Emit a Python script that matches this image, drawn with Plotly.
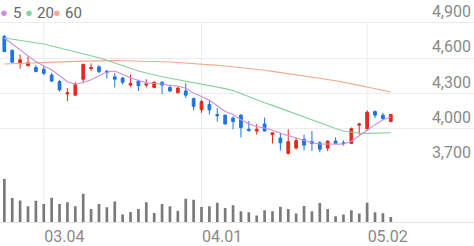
import plotly.graph_objects as go

W, H = 474, 246

dates = ["02.23", "02.26", "02.27", "02.28", "02.29", "03.04", "03.05", "03.06", "03.07", "03.08",
         "03.11", "03.12", "03.13", "03.14", "03.15", "03.18", "03.19", "03.20", "03.21", "03.22",
         "03.25", "03.26", "03.27", "03.28", "03.29", "04.01", "04.02", "04.03", "04.04", "04.05",
         "04.08", "04.09", "04.11", "04.12", "04.15", "04.16", "04.17", "04.18", "04.19", "04.22",
         "04.23", "04.24", "04.25", "04.26", "04.29", "04.30", "05.02", "05.03", "05.07", "05.08"]

open_ = [4785, 4665, 4555, 4535, 4520, 4505, 4455, 4400, 4295, 4285,
         4420, 4510, 4525, 4490, 4440, 4430, 4370, 4405, 4370, 4350,
         4395, 4350, 4305, 4320, 4255, 4160, 4205, 4120, 4115, 4090,
         4115, 3995, 3980, 4040, 3950, 3920, 3790, 3835, 3910, 3890,
         3880, 3835, 3895, 3880, 3875, 4030, 4000, 4145, 4115, 4060]
high = [4795, 4675, 4630, 4615, 4540, 4530, 4475, 4415, 4345, 4395,
        4555, 4555, 4540, 4495, 4470, 4440, 4460, 4415, 4420, 4400,
        4400, 4375, 4355, 4385, 4265, 4245, 4245, 4175, 4120, 4105,
        4125, 4065, 4040, 4095, 3965, 3965, 3995, 3925, 3950, 3980,
        3895, 3900, 3925, 3900, 4010, 4050, 4155, 4155, 4135, 4125]
low = [4650, 4560, 4510, 4530, 4480, 4455, 4395, 4315, 4235, 4280,
       4385, 4490, 4470, 4425, 4350, 4375, 4355, 4320, 4350, 4345,
       4295, 4315, 4300, 4260, 4155, 4135, 4120, 4060, 4035, 3995,
       3925, 3975, 3950, 3975, 3875, 3815, 3780, 3825, 3815, 3810,
       3800, 3810, 3870, 3855, 3870, 3950, 3985, 4090, 4075, 4055]
close = [4655, 4565, 4585, 4560, 4485, 4470, 4405, 4330, 4305, 4375,
         4545, 4520, 4485, 4480, 4420, 4395, 4385, 4365, 4380, 4395,
         4370, 4320, 4345, 4285, 4190, 4230, 4160, 4110, 4040, 4060,
         4010, 3985, 3995, 3980, 3965, 3880, 3890, 3900, 3860, 3875,
         3825, 3895, 3875, 3875, 4000, 4040, 4140, 4115, 4085, 4120]

ma5 = [4770, 4720, 4670, 4615, 4570, 4533, 4501, 4450, 4399, 4377,
       4392, 4415, 4446, 4481, 4490, 4460, 4433, 4409, 4389, 4384,
       4379, 4366, 4362, 4343, 4302, 4274, 4242, 4195, 4146, 4120,
       4076, 4041, 4018, 4006, 3987, 3961, 3942, 3923, 3899, 3881,
       3870, 3871, 3866, 3869, 3894, 3937, 3986, 4034, 4076, 4100]
ma20 = [4770, 4760, 4749, 4739, 4729, 4719, 4703, 4686, 4671, 4656,
        4640, 4619, 4602, 4581, 4558, 4535, 4511, 4490, 4473, 4455,
        4441, 4429, 4417, 4403, 4388, 4376, 4364, 4353, 4340, 4324,
        4297, 4271, 4246, 4221, 4198, 4173, 4148, 4125, 4099, 4073,
        4045, 4024, 4001, 3980, 3971, 3961, 3960, 3960, 3963, 3966]
ma60 = [4550, 4553, 4556, 4558, 4560, 4562, 4565, 4568, 4570, 4572,
        4574, 4576, 4577, 4578, 4578, 4577, 4576, 4575, 4574, 4572,
        4569, 4566, 4562, 4558, 4555, 4550, 4544, 4538, 4532, 4526,
        4520, 4513, 4505, 4496, 4487, 4478, 4469, 4459, 4449, 4439,
        4428, 4418, 4407, 4396, 4382, 4368, 4354, 4340, 4326, 4312]

volume = [437, 243, 220, 160, 217, 183, 247, 183, 200, 160,
          287, 133, 183, 150, 210, 77, 103, 133, 200, 93,
          183, 160, 117, 237, 227, 153, 160, 197, 143, 170,
          110, 100, 67, 120, 110, 157, 133, 87, 163, 110,
          193, 133, 60, 77, 120, 87, 197, 100, 90, 53]

price_ticks = [3700, 4000, 4300, 4600, 4900]
price_tick_text = ["3,700", "4,000", "4,300", "4,600", "4,900"]
date_ticks = ["03.04", "04.01", "05.02"]

ma_names = ["5", "20", "60"]
ma_colors = ["#cb8de0", "#85d09b", "#f5a88a"]
UP, DOWN = "#e02b1f", "#1e74e3"
GRID = "#ececec"

def py(px_from_top):
    return (H - px_from_top) / H

# price panel: 3,700 grid at 165px, 4,900 grid at 22px; domain extended up to 2px
pp_unit = (price_ticks[-1] - price_ticks[0]) / (165 - 22)
y_top = price_ticks[-1] + (22 - 2) * pp_unit

fig = go.Figure()
fig.add_trace(go.Bar(x=dates, y=volume, width=0.34, marker_color="#7a7a7a",
                     marker_line_width=0, yaxis="y2", hoverinfo="skip"))
for vals, col in zip([ma60, ma20, ma5], [ma_colors[2], ma_colors[1], ma_colors[0]]):
    fig.add_trace(go.Scatter(x=dates, y=vals, mode="lines", line=dict(color=col, width=1.1),
                             yaxis="y", hoverinfo="skip"))
fig.add_trace(go.Candlestick(x=dates, open=open_, high=high, low=low, close=close,
                             increasing=dict(line=dict(color=UP, width=1), fillcolor=UP),
                             decreasing=dict(line=dict(color=DOWN, width=1), fillcolor=DOWN),
                             whiskerwidth=0, yaxis="y", hoverinfo="skip"))

for d in date_ticks:
    i = dates.index(d)
    fig.add_shape(type="line", xref="x", yref="paper", x0=i, x1=i, y0=py(224), y1=py(22),
                  line=dict(color=GRID, width=1), layer="below")

# legend as text
dot_x = [4, 29, 57]
txt_x = [11, 35, 63]
for name, col, dx, tx in zip(ma_names, ma_colors, dot_x, txt_x):
    fig.add_annotation(x=dx / W, y=py(12), xref="paper", yref="paper", text="●",
                       showarrow=False, font=dict(size=13, color=col), xanchor="center", yanchor="middle")
    fig.add_annotation(x=tx / W, y=py(12), xref="paper", yref="paper", text=name,
                       showarrow=False, font=dict(size=15, color="#666"), xanchor="left", yanchor="middle")

fig.update_layout(
    width=W, height=H, margin=dict(l=0, r=0, t=0, b=0),
    paper_bgcolor="white", plot_bgcolor="white", showlegend=False,
    font=dict(family="Roboto, sans-serif"),
    boxgap=0.5,
    xaxis=dict(type="category", categoryorder="array", categoryarray=dates,
               range=[-0.55, 59.55], anchor="y2", rangeslider=dict(visible=False),
               tickmode="array", tickvals=date_ticks, ticktext=date_ticks,
               ticklabelposition="outside right", ticks="", showgrid=False,
               showline=True, linecolor="#e2e2e2", linewidth=1,
               tickfont=dict(size=16, color="#8a8a8a")),
    yaxis=dict(domain=[py(165), py(2)], range=[price_ticks[0], y_top], side="right",
               tickmode="array", tickvals=price_ticks, ticktext=price_tick_text,
               ticklabelposition="inside top", ticklabeloverflow="allow", ticks="",
               showgrid=True, gridcolor=GRID,
               zeroline=False, showline=False, tickfont=dict(size=16, color="#8a8a8a")),
    yaxis2=dict(domain=[py(224), py(180)], range=[0, max(volume)], visible=False,
                showgrid=False, zeroline=False),
)

fig.write_html("out.html")
